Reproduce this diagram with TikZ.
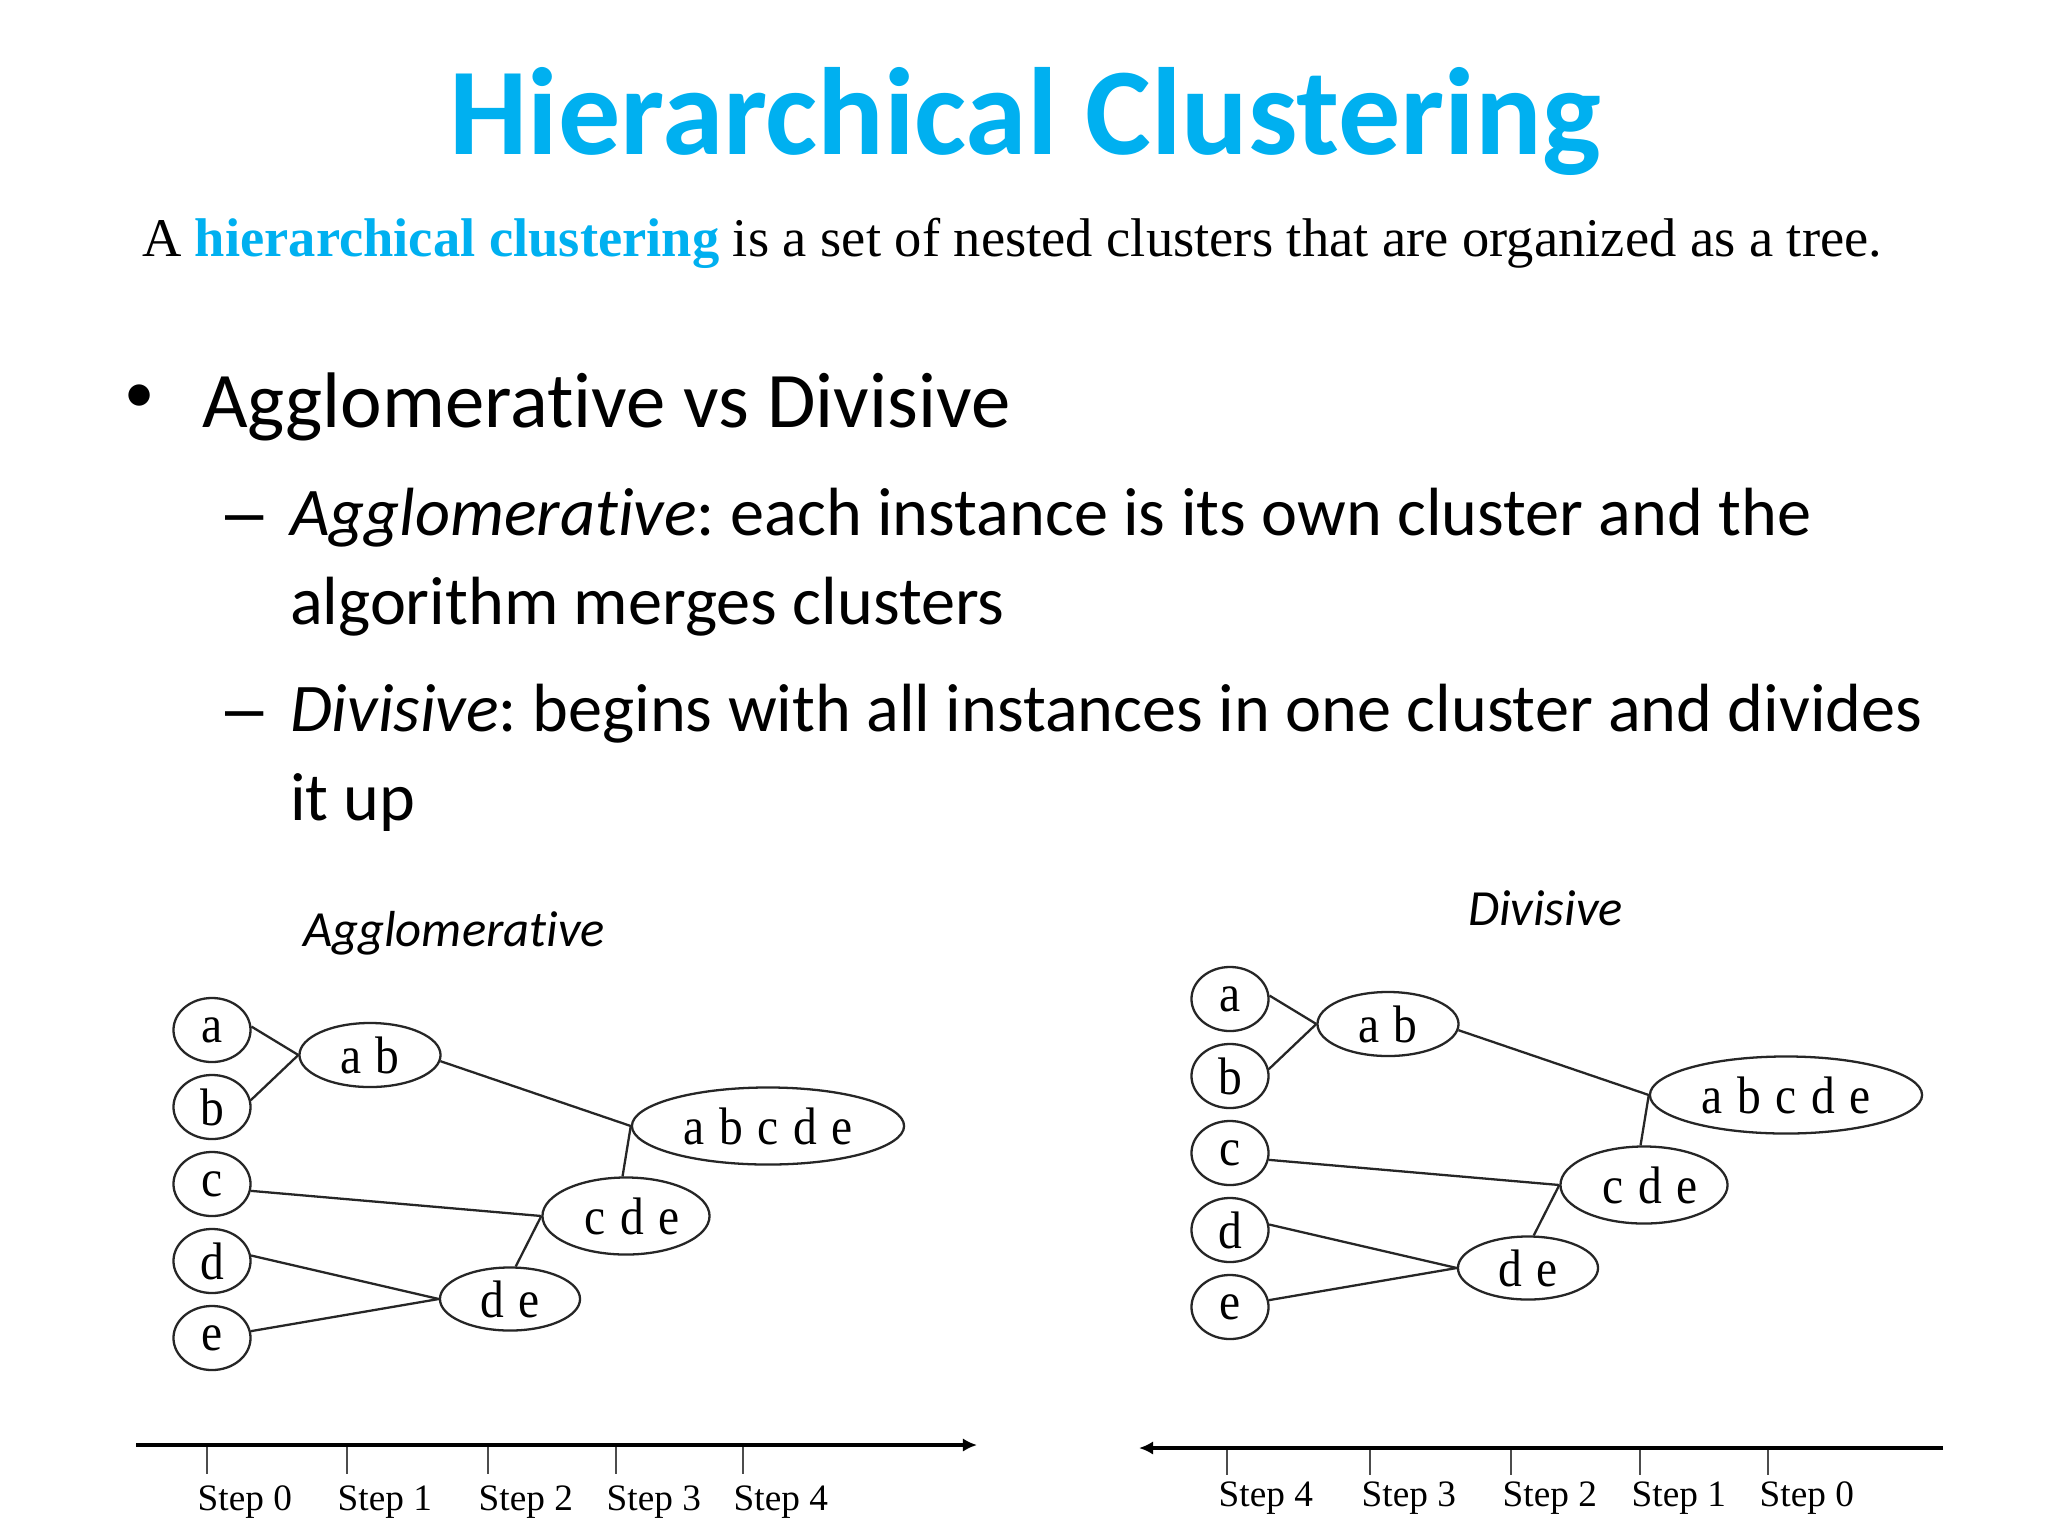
\documentclass[tikz,border=0pt]{standalone}
\usepackage{fontspec}
\setmainfont{Carlito}[Ligatures=NoCommon]
\newfontfamily\serif{Liberation Serif}
\newfontfamily\nodeserif[FakeStretch=0.9]{Liberation Serif}
\newfontfamily\arialfont{Liberation Sans}
\usetikzlibrary{shapes.geometric,arrows.meta}
\definecolor{titleblue}{HTML}{00B0F0}
\newcommand\lgap{\hspace{0.145cm}}
\frenchspacing
\tikzset{
  txt/.style={anchor=base west, inner sep=0pt, outer sep=0pt},
  leaf/.style={ellipse, draw=black!85, line width=0.65pt, inner sep=0pt,
    minimum width=0.77cm, minimum height=0.64cm, font=\nodeserif\fontsize{15}{17}\selectfont},
  clus/.style={ellipse, draw=black!85, line width=0.65pt, inner sep=0pt,
    font=\nodeserif\fontsize{15}{17}\selectfont},
  link/.style={draw=black!85, line width=0.65pt},
  axisline/.style={draw=black, line width=1.1pt},
  tickline/.style={draw=black!70, line width=0.45pt},
  steplabel/.style={anchor=base west, inner sep=0pt, font=\serif\fontsize{10.6}{12}\selectfont},
  pics/dendro/.style={code={
    \node[leaf] (a) at (212,1030) {a};
    \node[leaf] (b) at (212,1107) {b};
    \node[leaf] (c) at (212,1184) {c};
    \node[leaf] (d) at (212,1261) {d};
    \node[leaf] (e) at (212,1338) {e};
    \node[clus, minimum width=1.41cm, minimum height=0.64cm] (ab) at (370,1055) {a\lgap b};
    \node[clus, minimum width=2.72cm, minimum height=0.77cm] (abcde) at (768,1126) {a\lgap b\lgap c\lgap d\lgap e\hspace{0.16cm}};
    \node[clus, minimum width=1.67cm, minimum height=0.77cm] (cde) at (626,1216) {\hspace{0.12cm}c\lgap d\lgap e};
    \node[clus, minimum width=1.40cm, minimum height=0.63cm] (de) at (510,1299) {d\lgap e};
    \draw[link] (a.5) -- (ab.west);
    \draw[link] (b.10) -- (ab.west);
    \draw[link] (ab.-5) -- (abcde.west);
    \draw[link] (abcde.west) -- (cde.95);
    \draw[link] (c.-10) -- (cde.west);
    \draw[link] (cde.west) -- (de.80);
    \draw[link] (d.8) -- (de.west);
    \draw[link] (e.10) -- (de.west);
  }}
}
\begin{document}
\begin{tikzpicture}[x=0.01cm, y=-0.01cm]
\useasboundingbox (0,0) rectangle (2048,1536);
\fill[white] (0,0) rectangle (2048,1536);

% title and intro
\node[anchor=base, inner sep=0pt, text=titleblue, font=\bfseries\fontsize{35.3}{40}\selectfont] (title) at (1025,154) {Hierarchical Clustering};
\node[txt, font=\serif\fontsize{15.5}{18}\selectfont] (intro) at (142,256)
  {A \textcolor{titleblue}{\textbf{hierarchical clustering}} is a set of nested clusters that are organized as a tree.};

% bullets
\node[txt, font=\fontsize{17.2}{20}\selectfont] (dot1) at (124,412) {•};
\node[txt, font=\fontsize{22.4}{27}\selectfont] (b1) at (202,427) {Agglomerative vs Divisive};
\node[txt, font=\arialfont\fontsize{19.6}{24}\selectfont] (dash1) at (225,535) {–};
\node[txt, font=\fontsize{19.4}{24}\selectfont] (s1a) at (290,535) {\textit{Agglomerative}: each instance is its own cluster and the};
\node[txt, font=\fontsize{19.4}{24}\selectfont] (s1b) at (290,624) {algorithm merges clusters};
\node[txt, font=\arialfont\fontsize{19.6}{24}\selectfont] (dash2) at (225,731) {–};
\node[txt, font=\fontsize{19.4}{24}\selectfont] (s2a) at (290,731) {\textit{Divisive}: begins with all instances in one cluster and divides};
\node[txt, font=\fontsize{19.4}{24}\selectfont] (s2b) at (290,820) {it up};

% diagram captions
\node[txt, font=\itshape\fontsize{14.4}{17}\selectfont] (capL) at (303,946) {Agglomerative};
\node[txt, font=\itshape\fontsize{14.4}{17}\selectfont] (capR) at (1468,925) {Divisive};

% dendrograms
\pic (L) at (0,0) {dendro};
\pic (R) at (1018,-31) {dendro};

% left axis
\coordinate (LA0) at (136,1445);
\coordinate (LA1) at (977,1445);
\draw[axisline, -{Latex[length=4pt,width=3.8pt]}] (LA0) -- (LA1);
\foreach \x/\n in {207/0,347/1,488/2,616/3,743/4}{
  \draw[tickline] (\x,1447) -- (\x,1474);
  \node[steplabel] (lstep\n) at (\x-10,1510) {Step \n};
}

% right axis
\coordinate (RA0) at (1943,1448);
\coordinate (RA1) at (1139,1448);
\draw[axisline, -{Latex[length=4pt,width=3.8pt]}] (RA0) -- (RA1);
\foreach \x/\n in {1227/4,1370/3,1511/2,1640/1,1768/0}{
  \draw[tickline] (\x,1450) -- (\x,1475);
  \node[steplabel] (rstep\n) at (\x-9,1506) {Step \n};
}
\end{tikzpicture}
\end{document}
